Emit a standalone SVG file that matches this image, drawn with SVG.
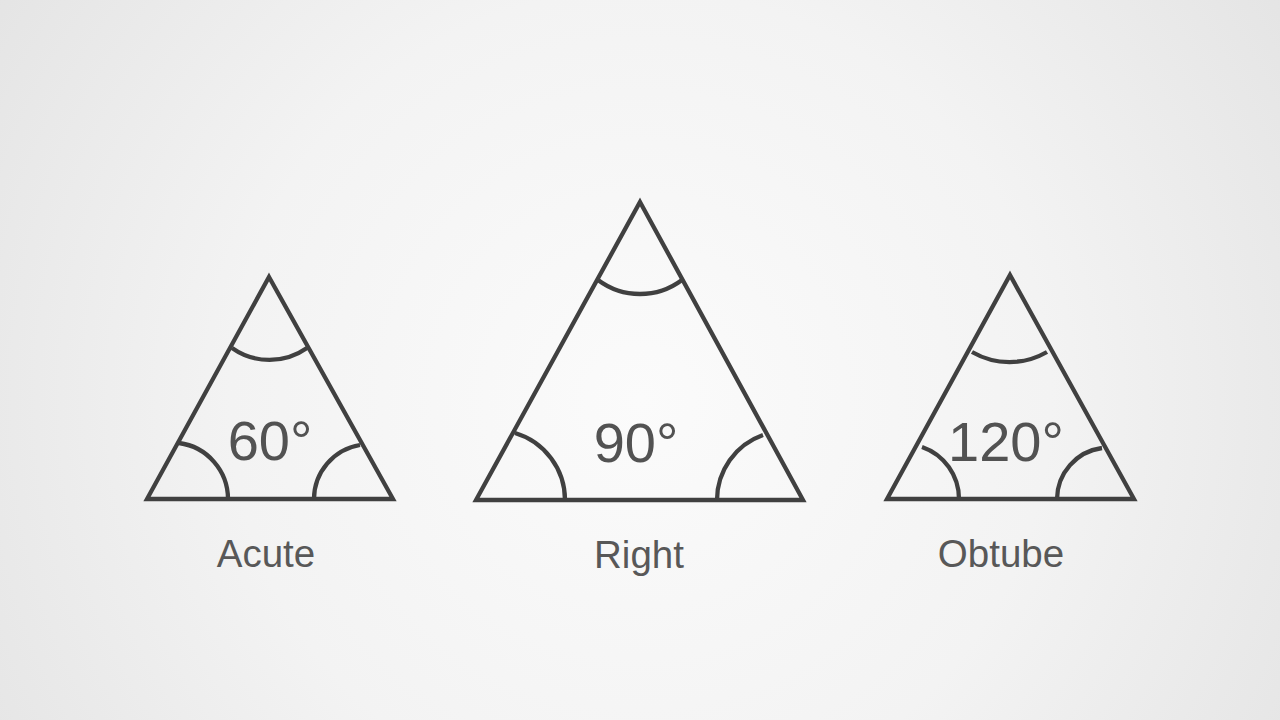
<svg xmlns="http://www.w3.org/2000/svg" width="1280" height="720" viewBox="0 0 1280 720">
<defs>
<radialGradient id="bg" cx="640" cy="400" r="820" gradientUnits="userSpaceOnUse">
<stop offset="0" stop-color="#fbfbfb"/>
<stop offset="0.5" stop-color="#f3f3f3"/>
<stop offset="1" stop-color="#e2e2e2"/>
</radialGradient>
<style>
.tri{fill:none;stroke:#404040;stroke-width:4.3;stroke-linejoin:miter}
.arc{fill:none;stroke:#404040;stroke-width:4.3}
.deg{font-family:"Liberation Sans",Arial,sans-serif;font-size:56px;fill:#525252;text-anchor:middle}
.lbl{font-family:"Liberation Sans",Arial,sans-serif;font-size:38.5px;fill:#585858;text-anchor:middle}
</style>
</defs>
<rect width="1280" height="720" fill="url(#bg)"/>
<g id="acute">
<polygon class="tri" points="269,277 393,499 147,499"/>
<path class="arc" d="M232,348 A65,65 0 0 0 307,348"/>
<path class="arc" d="M179,443 A56.5,56.5 0 0 1 228,499"/>
<path class="arc" d="M314,499 A55,55 0 0 1 360,445"/>
<text class="deg" x="270" y="460">60°</text>
<text class="lbl" x="266" y="567">Acute</text>
</g>
<g id="right">
<polygon class="tri" points="640,202 803,500 476,500"/>
<path class="arc" d="M598,280 A70,70 0 0 0 682,280"/>
<path class="arc" d="M515,433 A70,70 0 0 1 565,500"/>
<path class="arc" d="M717,500 A69,69 0 0 1 763,435"/>
<text class="deg" x="636" y="462">90°</text>
<text class="lbl" x="639" y="568">Right</text>
</g>
<g id="obtube">
<polygon class="tri" points="1010,275 1134,499 887,499"/>
<path class="arc" d="M972,352 A75,75 0 0 0 1047,352"/>
<path class="arc" d="M922,447 A55,55 0 0 1 959,499"/>
<path class="arc" d="M1057,499 A52,52 0 0 1 1102,448"/>
<text class="deg" x="1006" y="461">120°</text>
<text class="lbl" x="1001" y="567">Obtube</text>
</g>
<g id="connectors"/>
</svg>
